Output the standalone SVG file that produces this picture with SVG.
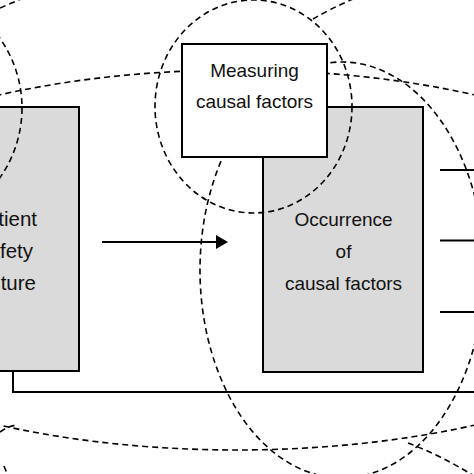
<svg xmlns="http://www.w3.org/2000/svg" width="474" height="474" viewBox="0 0 474 474">
<style>
.dash{fill:none;stroke:#000;stroke-width:1.6;stroke-dasharray:6 4}
.box{stroke:#000;stroke-width:2}
.gray{fill:#dadada}
.white{fill:#fff}
.lbl{font-family:"Liberation Sans",Arial,sans-serif;font-size:19px;fill:#111;text-anchor:middle}
.lblr{font-family:"Liberation Sans",Arial,sans-serif;font-size:20.5px;fill:#111;text-anchor:end}
.conn{fill:none;stroke:#000;stroke-width:2}
</style>
<defs>
<marker id="ah" markerUnits="userSpaceOnUse" markerWidth="12" markerHeight="14" refX="1" refY="7" orient="auto">
<path d="M0,0 L12,7 L0,14 z" fill="#000"/>
</marker>
</defs>
<rect width="474" height="474" fill="#fff"/>
<g id="regions-back">
<ellipse class="dash" cx="237" cy="260" rx="480" ry="190"/>
<ellipse class="dash" cx="342" cy="270" rx="142" ry="208"/>
<path class="dash" d="M0,8 L21,-1"/>
<path class="dash" d="M313,19 Q330,9 353,-1"/>
<path class="dash" d="M408,443 Q440,455 476,477"/>
<path class="dash" d="M0,432 Q8,426 17,425"/>
<path class="dash" d="M4,466 L8,476"/>
</g>
<g id="patient-safety-culture">
<rect class="box gray" x="-70" y="107" width="149" height="264"/>
<text class="lblr" x="37" y="226">Patient</text>
<text class="lblr" x="33" y="258">safety</text>
<text class="lblr" x="36" y="290">culture</text>
</g>
<g id="occurrence">
<rect class="box gray" x="263" y="107" width="160" height="265"/>
<text class="lbl" x="343.5" y="226">Occurrence</text>
<text class="lbl" x="343.5" y="258">of</text>
<text class="lbl" x="343.5" y="290">causal factors</text>
</g>
<g id="regions-front">
<circle class="dash" cx="-99" cy="108" r="121"/>
<ellipse class="dash" cx="253.5" cy="106.5" rx="98.5" ry="106.5"/>
</g>
<g id="measuring">
<rect class="box white" x="182" y="44" width="145" height="113"/>
<text class="lbl" x="254.5" y="77">Measuring</text>
<text class="lbl" x="254.5" y="108">causal factors</text>
</g>
<g id="connectors">
<line class="conn" x1="102" y1="242" x2="217" y2="242" marker-end="url(#ah)"/>
<line class="conn" x1="440" y1="170" x2="474" y2="170"/>
<line class="conn" x1="440" y1="240.5" x2="474" y2="240.5"/>
<line class="conn" x1="440" y1="312" x2="474" y2="312"/>
<polyline class="conn" points="13,371 13,392 474,392"/>
</g>
</svg>
